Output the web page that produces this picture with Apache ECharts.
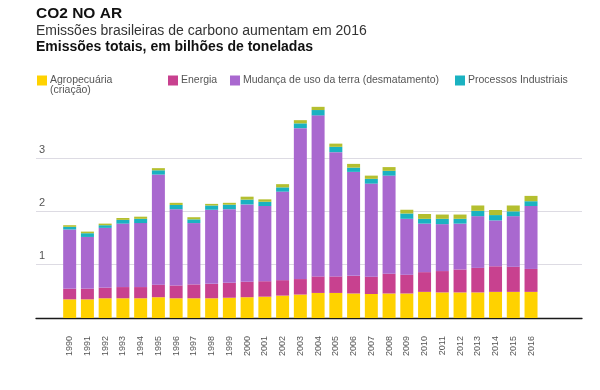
<!DOCTYPE html>
<html>
<head>
<meta charset="utf-8">
<script src="https://cdn.jsdelivr.net/npm/echarts@6/dist/echarts.min.js"></script>
<style>
html,body{margin:0;padding:0;background:#fff;}
#chart{width:600px;height:390px;}
</style>
</head>
<body>
<div id="chart"></div>
<script>
var years = ['1990','1991','1992','1993','1994','1995','1996','1997','1998','1999','2000','2001','2002','2003','2004','2005','2006','2007','2008','2009','2010','2011','2012','2013','2014','2015','2016'];
var agro = [0.35,0.35,0.37,0.37,0.37,0.39,0.37,0.37,0.37,0.38,0.39,0.40,0.42,0.44,0.47,0.47,0.46,0.45,0.46,0.46,0.49,0.48,0.48,0.48,0.49,0.49,0.49];
var energia = [0.20,0.20,0.20,0.21,0.21,0.235,0.24,0.26,0.27,0.28,0.29,0.29,0.29,0.29,0.31,0.31,0.33,0.325,0.37,0.35,0.37,0.40,0.43,0.46,0.48,0.47,0.43];
var mudanca = [1.11,0.97,1.12,1.19,1.20,2.065,1.43,1.15,1.39,1.38,1.45,1.41,1.66,2.83,3.02,2.33,1.95,1.745,1.84,1.05,0.91,0.88,0.86,0.97,0.86,0.95,1.18];
var processos = [0.05,0.07,0.05,0.07,0.08,0.08,0.08,0.07,0.08,0.085,0.09,0.08,0.08,0.09,0.10,0.10,0.08,0.09,0.09,0.10,0.09,0.10,0.09,0.10,0.10,0.09,0.09];
var residuos = [0.03,0.03,0.03,0.035,0.04,0.04,0.04,0.04,0.03,0.035,0.055,0.045,0.06,0.06,0.06,0.06,0.07,0.06,0.07,0.07,0.09,0.08,0.08,0.10,0.095,0.11,0.10];
var yTicks = ['1','2','3'];

var FONT = 'Helvetica, Arial, "Liberation Sans", sans-serif';
var names = ['Agropecuária (criação)','Energia','Mudança de uso da terra (desmatamento)','Processos Industriais','Resíduos'];
var colors = ['#FFD200','#C8418F','#A968CF','#1AB2C1','#B4BF2F'];
var dataSets = [agro, energia, mudanca, processos, residuos];

var chart = echarts.init(document.getElementById('chart'), null, {renderer:'canvas'});

function legendAt(left, name, label){
  return {
    left: left, top: 75, padding: 0, itemWidth: 10, itemHeight: 10, itemGap: 0,
    icon: 'rect', selectedMode: false,
    data: [name],
    formatter: function(){ return label; },
    textStyle: {fontFamily: FONT, fontSize: 10.5, color: '#555', padding: [0,0,0,-2]}
  };
}

var option = {
  animation: false,
  backgroundColor: '#fff',
  title: [
    {text: 'CO2 NO AR', left: 36, top: 5.5, padding: 0,
     textStyle: {fontFamily: FONT, fontSize: 15.5, fontWeight: 'bold', color: '#111', lineHeight: 16}},
    {text: 'Emissões brasileiras de carbono aumentam em 2016', left: 36, top: 23.7, padding: 0,
     textStyle: {fontFamily: FONT, fontSize: 14, fontWeight: 'normal', color: '#333', lineHeight: 14}},
    {text: 'Emissões totais, em bilhões de toneladas', left: 36, top: 39.7, padding: 0,
     textStyle: {fontFamily: FONT, fontSize: 14, fontWeight: 'bold', color: '#111', lineHeight: 14}}
  ],
  legend: [
    legendAt(37, names[0], 'Agropecuária'),
    legendAt(168, names[1], 'Energia'),
    legendAt(230, names[2], 'Mudança de uso da terra (desmatamento)'),
    legendAt(455, names[3], 'Processos Industriais')
  ],
  graphic: [
    {type: 'text', left: 50, top: 84.5, silent: true,
     style: {text: '(criação)', fontFamily: FONT, fontSize: 10.5, fill: '#555'}}
  ],
  grid: [
    {left: 36, right: 18, top: 104.7, bottom: 72},
    {left: 60.8, width: 479.1, top: 104.7, bottom: 72}
  ],
  xAxis: [
    {gridIndex: 0, type: 'value', min: 0, max: 1,
     axisLine: {show: true, onZero: false, lineStyle: {color: '#1a1a1a', width: 1.3}},
     axisTick: {show: false}, axisLabel: {show: false}, splitLine: {show: false}},
    {gridIndex: 1, type: 'category', data: years, boundaryGap: true,
     axisLine: {show: false}, axisTick: {show: false},
     axisLabel: {rotate: 90, margin: 18, interval: 0, fontFamily: FONT, fontSize: 9, color: '#555'}}
  ],
  yAxis: [
    {gridIndex: 0, type: 'value', min: 0, max: 4, interval: 1,
     axisLine: {show: false}, axisTick: {show: false},
     splitLine: {show: true, showMaxLine: false, showMinLine: false, lineStyle: {color: '#dddbe3', width: 1}},
     axisLabel: {inside: true, margin: 3, fontFamily: FONT, fontSize: 11, color: '#555',
       verticalAlign: 'bottom', lineHeight: 11, padding: [0,0,3,0],
       formatter: function(v){ var s = String(v); return yTicks.indexOf(s) >= 0 ? s : ''; }}},
    {gridIndex: 1, type: 'value', min: 0, max: 4, interval: 1, show: false,
     splitLine: {show: false}}
  ],
  series: dataSets.map(function(d, i){
    return {
      name: names[i], type: 'bar', stack: 'total', xAxisIndex: 1, yAxisIndex: 1,
      barWidth: 13, data: d, itemStyle: {color: colors[i]}, silent: true
    };
  })
};
chart.setOption(option);
</script>
</body>
</html>
